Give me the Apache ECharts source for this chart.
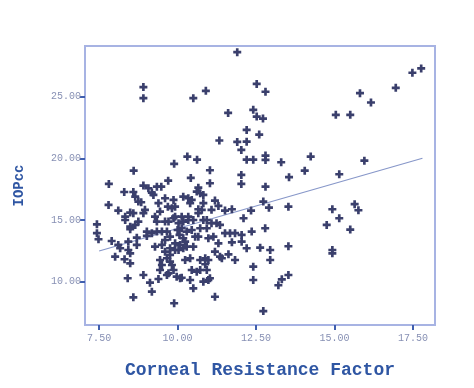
<!DOCTYPE html>
<html>
<head>
<meta charset="utf-8">
<script src="https://cdn.jsdelivr.net/npm/echarts@6/dist/echarts.min.js"></script>
<style>html,body{margin:0;padding:0;background:#fff}#c{width:474px;height:388px}</style>
</head>
<body>
<div id="c"></div>
<script>
const xTicks = [7.5, 10, 12.5, 15, 17.5];
const yTicks = [10, 15, 20, 25];
const xTitle = 'Corneal Resistance Factor';
const yTitle = 'IOPcc';
const points = [
[11.90,28.6],[8.91,25.77],[8.91,24.87],[10.50,24.87],[10.90,25.47],[12.52,26.03],[12.80,25.39],[11.61,23.68],[12.41,23.93],[12.52,23.38],[12.72,23.22],[12.20,22.30],[12.60,21.92],[11.33,21.44],[11.90,21.33],[12.20,21.35],[12.03,20.68],[12.80,20.22],[12.20,19.89],[12.41,19.89],[12.80,19.87],[13.30,19.68],[10.31,20.14],[10.62,19.89],[9.89,19.55],[8.60,19.0],
[11.03,19.03],[10.42,18.41],[9.70,18.19],[12.03,18.65],[7.81,17.92],[8.91,17.79],[9.34,17.70],[9.48,17.70],[11.03,17.98],[12.03,17.92],[12.80,17.70],[10.66,17.62],
[15.81,25.28],[16.16,24.52],[15.04,23.52],[15.50,23.52],[16.95,25.71],[17.48,26.93],[17.76,27.28],[13.55,18.47],[14.05,19.0],[14.24,20.14],[15.15,18.71],[15.95,19.81],
[12.73,16.49],[12.91,16.0],[13.53,16.08],[14.93,15.87],[15.15,15.14],[14.75,14.6],[15.64,16.28],[15.76,15.79],[15.50,14.22],[12.95,12.57],[12.95,11.76],[13.53,12.87],[14.93,12.57],[14.93,12.3],[13.53,10.54],[13.32,10.19],[13.21,9.71],
[8.30,17.27],[8.59,17.27],[9.07,17.57],[9.18,17.22],[9.23,17.03],[9.60,16.76],[9.87,16.63],[8.65,16.89],[8.75,16.49],[8.84,16.44],[7.80,16.22],[8.11,15.76],[8.49,15.60],[8.59,15.55],[8.33,15.27],[8.33,15.0],[8.96,15.82],[8.91,15.55],[9.39,16.36],[9.69,16.08],[9.82,15.95],[9.28,15.27],[9.34,14.87],[9.60,14.87],[9.71,14.87],[9.87,15.14],[8.75,14.87],[8.65,14.60],[8.49,14.46],[8.49,14.25],[9.02,14.06],[9.18,13.93],[9.34,14.06],[9.50,14.06],[9.66,14.06],[7.43,14.65],[7.43,13.93],
[10.18,16.89],[10.34,16.76],[10.45,16.63],[10.40,16.36],[10.61,17.30],[10.72,17.17],[10.82,17.03],[11.19,16.57],[11.30,16.14],[10.82,16.36],[10.66,15.87],[11.08,15.82],[11.51,15.76],[11.73,15.87],[12.34,15.76],[12.10,15.14],[10.13,15.27],[10.34,15.27],[10.18,14.87],[10.34,15.0],[10.50,15.0],[9.92,15.27],[10.03,14.74],[10.72,14.33],[10.93,14.33],[10.13,14.33],[10.29,14.06],[10.45,14.19],[11.51,13.93],[11.67,13.93],[11.83,13.93],[12.04,13.79],[12.36,14.06],[12.79,14.33],[10.98,13.52],[11.14,13.65],[10.56,13.65],[10.66,13.65],
[7.48,13.44],[7.90,13.30],[8.11,12.98],[8.17,12.71],[8.43,13.24],[8.70,13.57],[9.02,13.71],[8.43,12.57],[8.49,12.30],[8.70,12.98],[8.01,12.03],[8.31,11.82],[8.49,11.49],[9.28,12.84],[9.50,12.98],[9.60,13.38],[9.76,13.65],[9.44,11.76],[9.50,11.35],[9.66,11.90],[9.76,11.62],[9.82,11.35],[9.87,10.95],[9.71,10.68],[9.66,10.54],[9.60,12.43],[9.76,12.71],[9.92,12.57],[8.41,10.28],[8.91,10.54],[9.12,9.92],[9.39,10.22],[9.18,9.19],[8.59,8.73],[9.89,8.25],[9.97,10.41],
[9.92,13.11],[10.08,12.98],[10.18,12.71],[10.03,12.57],[10.50,12.84],[11.30,13.11],[11.73,13.19],[12.04,13.24],[12.20,12.71],[12.63,12.76],[11.19,12.43],[11.35,12.03],[11.41,11.90],[11.62,12.22],[11.83,11.76],[10.72,11.76],[10.88,11.90],[10.98,11.76],[10.24,11.76],[10.40,11.90],[10.88,11.41],[10.93,10.95],[10.45,10.95],[10.61,10.81],[10.72,10.95],[10.13,10.32],[10.40,10.14],[10.82,10.0],[10.98,10.14],[10.50,9.46],[12.41,11.22],[12.41,10.14],[11.19,8.78],[12.73,7.62],
[9.44,15.68],[9.92,16.08],[10.0,14.19],[10.06,13.79],[10.18,13.52],[10.24,13.24],[10.29,12.84],[9.44,10.95],[9.76,12.17],[10.08,10.28],[11.03,10.28],[11.24,14.74],[11.35,14.6],[11.08,14.74],[10.82,15.0],[10.93,15.0],[10.66,15.55],[10.77,15.82]
];
const fitX = [7.5, 17.8];
const fitY = [12.49, 20.0];

const chart = echarts.init(document.getElementById('c'), null, {renderer: 'canvas'});
const plus = 'path://M3,0 L6,0 L6,3 L9,3 L9,6 L6,6 L6,9 L3,9 L3,6 L0,6 L0,3 L3,3 Z';
chart.setOption({
  animation: false,
  backgroundColor: '#ffffff',
  grid: {left: 85, top: 46, width: 350, height: 279, show: true, borderColor: '#a7b3e3', borderWidth: 2, backgroundColor: 'transparent'},
  xAxis: {
    type: 'value', min: 7.05, max: 18.2,
    name: xTitle, nameLocation: 'middle', nameGap: 36,
    nameTextStyle: {fontFamily: 'Liberation Mono', fontWeight: 'bold', fontSize: 18, color: '#2f56a3'},
    axisLine: {show: false},
    splitLine: {show: false},
    axisTick: {show: true, customValues: xTicks, length: 5, lineStyle: {color: '#3f5eae', width: 2}},
    axisLabel: {customValues: xTicks, formatter: v => v.toFixed(2), fontFamily: 'Liberation Mono', fontSize: 10, color: '#8790b4', margin: 8}
  },
  yAxis: {
    type: 'value', min: 6.49, max: 29.1,
    name: yTitle, nameLocation: 'middle', nameGap: 59,
    nameTextStyle: {fontFamily: 'Liberation Mono', fontWeight: 'bold', fontSize: 14, color: '#2f56a3'},
    axisLine: {show: false},
    splitLine: {show: false},
    axisTick: {show: true, customValues: yTicks, length: 5, lineStyle: {color: '#3f5eae', width: 2}},
    axisLabel: {customValues: yTicks, formatter: v => v.toFixed(2), fontFamily: 'Liberation Mono', fontSize: 10, color: '#8790b4', margin: 4}
  },
  series: [
    {type: 'line', data: fitX.map((x, i) => [x, fitY[i]]), symbol: 'none', lineStyle: {color: '#8797c9', width: 1.2}, z: 1},
    {type: 'scatter', data: points, symbol: plus, symbolSize: 8, itemStyle: {color: '#3a3f6c', opacity: 1}, z: 2}
  ]
});
</script>
</body>
</html>
